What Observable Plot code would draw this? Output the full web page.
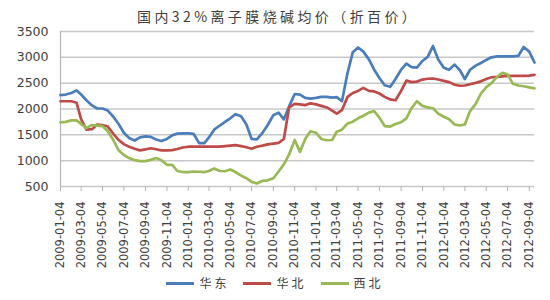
<!DOCTYPE html>
<html><head><meta charset="utf-8">
<script src="https://cdn.jsdelivr.net/npm/d3@7"></script>
<script src="https://cdn.jsdelivr.net/npm/@observablehq/plot@0.6"></script>
<style>
body{margin:0;background:#fff;}
#wrap{position:relative;width:550px;height:300px;overflow:hidden;font-family:"Noto Sans CJK SC",sans-serif;}
#title{position:absolute;left:137px;top:6px;font-size:14px;letter-spacing:3.4px;color:#404040;white-space:nowrap;line-height:20px;}
#legend{position:absolute;left:0;top:274px;width:550px;display:flex;justify-content:center;gap:14px;font-size:12px;color:#404040;line-height:18px;}
.item{display:flex;align-items:center;}
.sw{width:28px;height:3px;margin-right:5px;}
.lab{letter-spacing:3px;}
#wrap svg{position:absolute;left:0;top:0;}
</style></head><body><div id="wrap"><div id="title"></div><div id="legend"></div></div>
<script>
const title = "国内32%离子膜烧碱均价（折百价）";
const dates = [
"2009-01-04","2009-01-19","2009-02-04","2009-02-19","2009-03-04","2009-03-19","2009-04-04","2009-04-19","2009-05-04","2009-05-19","2009-06-04","2009-06-19",
"2009-07-04","2009-07-19","2009-08-04","2009-08-19","2009-09-04","2009-09-19","2009-10-04","2009-10-19","2009-11-04","2009-11-19","2009-12-04","2009-12-19",
"2010-01-04","2010-01-19","2010-02-04","2010-02-19","2010-03-04","2010-03-19","2010-04-04","2010-04-19","2010-05-04","2010-05-19","2010-06-04","2010-06-19",
"2010-07-04","2010-07-19","2010-08-04","2010-08-19","2010-09-04","2010-09-19","2010-10-04","2010-10-19","2010-11-04","2010-11-19","2010-12-04","2010-12-19",
"2011-01-04","2011-01-19","2011-02-04","2011-02-19","2011-03-04","2011-03-19","2011-04-04","2011-04-19","2011-05-04","2011-05-19","2011-06-04","2011-06-19",
"2011-07-04","2011-07-19","2011-08-04","2011-08-19","2011-09-04","2011-09-19","2011-10-04","2011-10-19","2011-11-04","2011-11-19","2011-12-04","2011-12-19",
"2012-01-04","2012-01-19","2012-02-04","2012-02-19","2012-03-04","2012-03-19","2012-04-04","2012-04-19","2012-05-04","2012-05-19","2012-06-04","2012-06-19",
"2012-07-04","2012-07-19","2012-08-04","2012-08-19","2012-09-04","2012-09-19"];
const eastChina = [
2270,2280,2310,2360,2280,2170,2070,2010,2010,1970,
1850,1710,1540,1440,1390,1450,1470,1460,1410,1380,
1420,1490,1525,1530,1530,1520,1340,1340,1450,1600,
1680,1750,1820,1900,1860,1700,1420,1410,1540,1690,
1880,1930,1800,2050,2290,2280,2215,2200,2215,2235,
2235,2220,2230,2150,2700,3100,3190,3110,2960,2760,
2600,2460,2430,2580,2760,2880,2810,2800,2930,3010,
3220,2960,2800,2760,2860,2750,2580,2760,2840,2890,
2950,3000,3020,3020,3020,3020,3030,3200,3110,2900];
const northChina = [
2150,2150,2150,2120,1800,1600,1610,1700,1690,1660,
1520,1400,1320,1270,1230,1200,1220,1240,1220,1200,
1200,1205,1225,1255,1270,1270,1270,1270,1270,1270,
1270,1280,1290,1300,1280,1260,1230,1270,1290,1315,
1330,1345,1420,2030,2100,2090,2075,2110,2090,2060,
2030,1970,1910,1980,2235,2310,2350,2410,2350,2340,
2300,2235,2185,2170,2350,2550,2520,2530,2570,2585,
2590,2570,2545,2520,2470,2450,2455,2480,2505,2535,
2580,2615,2620,2630,2640,2640,2640,2640,2645,2660];
const northwest = [
1740,1750,1780,1780,1710,1630,1690,1680,1670,1570,
1400,1200,1110,1050,1010,990,990,1015,1050,1010,
920,920,800,780,780,790,785,780,800,850,
800,795,830,780,710,660,590,560,610,620,
660,790,930,1120,1400,1170,1420,1570,1540,1420,
1395,1400,1560,1600,1720,1755,1820,1870,1930,1960,
1830,1670,1660,1710,1745,1820,2020,2150,2060,2030,
2015,1910,1850,1800,1700,1680,1700,1960,2100,2300,
2420,2500,2620,2700,2670,2490,2455,2440,2420,2400];
const seriesNames = ["华东","华北","西北"];
const seriesColors = ["#4A7EBB","#BE4B48","#98B954"];
const yTicks = [500,1000,1500,2000,2500,3000,3500];
const xTickLabels = ["2009-01-04","2009-03-04","2009-05-04","2009-07-04","2009-09-04","2009-11-04",
"2010-01-04","2010-03-04","2010-05-04","2010-07-04","2010-09-04","2010-11-04",
"2011-01-04","2011-03-04","2011-05-04","2011-07-04","2011-09-04","2011-11-04",
"2012-01-04","2012-03-04","2012-05-04","2012-07-04","2012-09-04"];

const parse = d3.utcParse("%Y-%m-%d");
const rows = [];
[eastChina, northChina, northwest].forEach((vals, k) =>
  vals.forEach((v, i) => rows.push({date: parse(dates[i]), value: v, series: seriesNames[k]})));

const chart = Plot.plot({
  width: 550, height: 300,
  marginTop: 31, marginBottom: 114, marginLeft: 60, marginRight: 16,
  style: {fontFamily: "DejaVu Sans", fontSize: "12px", color: "#404040", background: "transparent"},
  x: {type: "utc", domain: [parse(dates[0]), parse(dates[dates.length - 1])], label: null},
  y: {domain: [500, 3500], label: null},
  color: {domain: seriesNames, range: seriesColors},
  marks: [
    Plot.gridY(yTicks, {stroke: "#c8c8c8", strokeOpacity: 1, strokeWidth: 1.5}),
    Plot.ruleX([parse(dates[0])], {stroke: "#b4b4b4", strokeWidth: 1.2}),
    Plot.axisY(yTicks, {tickSize: 0, tickPadding: 12, fontSize: 12.5, tickFormat: d => String(d), fill: "#404040", label: null}),
    Plot.axisX(xTickLabels.map(parse), {tickRotate: -90, tickSize: 5, tickPadding: 10,
      tickFormat: d3.utcFormat("%Y-%m-%d"), stroke: "#b4b4b4", fontSize: 11.5, fill: "#404040", label: null}),
    Plot.line(rows, {x: "date", y: "value", stroke: "series", z: "series", strokeWidth: 2.7})
  ]
});
document.getElementById("wrap").appendChild(chart);
document.getElementById("title").textContent = title;
const legend = document.getElementById("legend");
seriesNames.forEach((name, k) => {
  const item = document.createElement("div"); item.className = "item";
  const sw = document.createElement("div"); sw.className = "sw"; sw.style.background = seriesColors[k];
  const lab = document.createElement("span"); lab.className = "lab"; lab.textContent = name;
  item.appendChild(sw); item.appendChild(lab); legend.appendChild(item);
});
</script></body></html>
